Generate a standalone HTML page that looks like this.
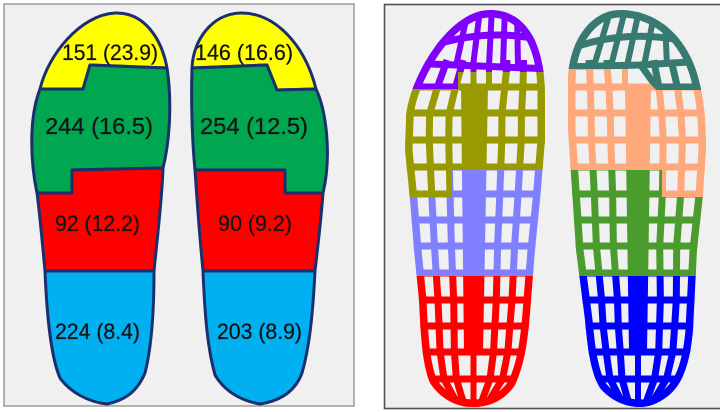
<!DOCTYPE html>
<html>
<head>
<meta charset="utf-8">
<style>
  html,body{margin:0;padding:0;background:#ffffff;}
  svg{display:block;}
  text{font-family:"Liberation Sans",sans-serif;fill:#141414;}
</style>
</head>
<body>
<svg width="720" height="412" viewBox="0 0 720 412" xmlns="http://www.w3.org/2000/svg">
  <rect x="0" y="0" width="720" height="412" fill="#ffffff"/>

  <!-- LEFT PANEL -->
  <rect x="4" y="4" width="350" height="402" fill="#f0f0f0" stroke="#9a9a9a" stroke-width="1.5"/>

  <g stroke="#1a2f6e" stroke-width="3" stroke-linejoin="round">
    <path d="M40,89 C48,55 80,15 115,13 C145,12 162,40 167,68 L90,65 L83,89 Z" fill="#ffff00"/>
    <path d="M40,89 L83,89 L90,65 L167,68 C172,100 170,140 163,168 L72,170 L72,193 L37,193 C31,165 28,120 40,89 Z" fill="#00a650"/>
    <path d="M37,193 L72,193 L72,170 L163,168 C162,200 157,240 154,271 L45,271 C42,240 40,215 37,193 Z" fill="#ff0000"/>
    <path d="M45,271 L154,271 C154,310 152,345 145,373 C137,392 125,400 107,404 C88,402 70,392 60,378 C52,360 47,320 45,271 Z" fill="#00b0f0"/>
    <path d="M192,68 C193,40 212,14 240,13 C275,12 305,45 316,89 L277,90 L267,65 Z" fill="#ffff00"/>
    <path d="M192,68 L267,65 L277,90 L316,89 C326,110 332,155 323,193 L285,193 L285,170 L195,170 C192,140 191,100 192,68 Z" fill="#00a650"/>
    <path d="M195,170 L285,170 L285,193 L323,193 C321,220 318,245 315,271 L203,271 C200,240 197,200 195,170 Z" fill="#ff0000"/>
    <path d="M203,271 L315,271 C313,310 310,345 302,373 C295,392 280,401 260,404 C242,401 225,392 215,375 C208,350 205,320 203,271 Z" fill="#00b0f0"/>
  </g>

  <g font-size="22" stroke="#141414" stroke-width="0.25">
    <text x="62" y="60" textLength="96" lengthAdjust="spacingAndGlyphs">151 (23.9)</text>
    <text x="195" y="60" textLength="98" lengthAdjust="spacingAndGlyphs">146 (16.6)</text>
    <text x="45" y="134" font-size="23" textLength="108" lengthAdjust="spacingAndGlyphs">244 (16.5)</text>
    <text x="200" y="134" font-size="23" textLength="108" lengthAdjust="spacingAndGlyphs">254 (12.5)</text>
    <text x="55" y="231" textLength="85" lengthAdjust="spacingAndGlyphs">92 (12.2)</text>
    <text x="218" y="231" textLength="74" lengthAdjust="spacingAndGlyphs">90 (9.2)</text>
    <text x="55" y="339" textLength="85" lengthAdjust="spacingAndGlyphs">224 (8.4)</text>
    <text x="217" y="339" textLength="85" lengthAdjust="spacingAndGlyphs">203 (8.9)</text>
  </g>

  <!-- RIGHT PANEL -->
  <rect x="384.5" y="4.5" width="345" height="404" fill="#f0f0f0" stroke="#505050" stroke-width="1.6"/>

  <defs>
    <clipPath id="sA"><path d="M490,10 C527,10 545,45 545,95 L545,140 L540,200 L535,250 L531,300 C528,345 524,365 515,385 C505,400 490,407 473,407 C455,407 440,398 430,383 C423,365 421,345 419,300 L414,250 L410,200 L405,150 L406,120 C406,85 446,10 490,10 Z"/></clipPath>
    <clipPath id="sB"><path d="M620,10 C652,10 682,30 696,70 C704,95 706,120 706,150 L703,195 L697,250 L693,330 C690,365 682,385 668,396 C658,404 648,407 640,407 C625,407 610,400 600,388 C592,375 588,355 585,320 L576,250 L572,190 L568,130 L568,80 C569,38 593,10 620,10 Z"/></clipPath>

    <clipPath id="rPA"><polygon points="395,0 555,0 555,72 458,72 458,89 395,89"/></clipPath>
    <clipPath id="rOA"><polygon points="395,89 458,89 458,72 555,72 555,170 452,170 452,197 395,197"/></clipPath>
    <clipPath id="rBA"><polygon points="395,197 452,197 452,170 555,170 555,276 395,276"/></clipPath>
    <clipPath id="rRA"><polygon points="395,276 555,276 555,412 395,412"/></clipPath>

    <clipPath id="rTB"><polygon points="560,0 715,0 715,90 656,90 636,69 560,69"/></clipPath>
    <clipPath id="rSB"><polygon points="560,69 636,69 656,90 715,90 715,197 662,197 662,170 560,170"/></clipPath>
    <clipPath id="rGB"><polygon points="560,170 662,170 662,197 715,197 715,276 560,276"/></clipPath>
    <clipPath id="rLB"><polygon points="560,276 715,276 715,412 560,412"/></clipPath>

    <g id="gA" fill="none" stroke="currentColor">
      <path d="M490,10 C527,10 545,45 545,95 L545,140 L540,200 L535,250 L531,300 C528,345 524,365 515,385 C505,400 490,407 473,407 C455,407 440,398 430,383 C423,365 421,345 419,300 L414,250 L410,200 L405,150 L406,120 C406,85 446,10 490,10 Z" stroke-width="15"/>
      <path d="M395,87H555M395,113H555M395,140H555M395,167H555M395,194H555M395,220H555M395,246H555M395,273H555M395,300H555M395,326H555M395,352H555M395,379H555" stroke-width="7"/>
      <polyline points="447,60 443.6,70 437.1,88 429.6,114 429.2,140 431.7,194 434.4,246 438,300 440.1,352 444,379 453.7,397 462,410" stroke-width="7"/>
      <polyline points="463,60 460.5,70 455.3,88 449.1,114 448.7,140 450,194 451.4,246 453.7,300 454.4,352 456.4,379 461.7,397 466,410" stroke-width="7"/>
      <polyline points="507,60 506.5,70 504.7,88 501.9,114 501.8,140 499.8,194 497.6,246 496.3,300 493.5,352 490,379 483.3,397 479,410" stroke-width="7"/>
      <polyline points="523.5,60 523.4,70 522.9,88 521.4,114 521.3,140 518.1,194 514.6,246 512,300 507.8,352 502.5,379 491.3,397 485,410" stroke-width="7"/>
      <polygon points="461,87 488,87 483,352 464,352" fill="currentColor" stroke="none"/>
      <path d="M473.5,350V410" stroke-width="6"/>
      <path d="M473.5,66V88M489,66V88" stroke-width="6"/>
      <path d="M434,45 Q490,28 541,40" stroke-width="7"/>
      <path d="M405,63 L552,69" stroke-width="7"/>
      <path d="M456,66 L466,20M473,66 L480,10M489,66 L492,6M503,66 L505,6M518,66 L517,10" stroke-width="6"/>
    </g>

    <g id="gB" fill="none" stroke="currentColor">
      <path d="M620,10 C652,10 682,30 696,70 C704,95 706,120 706,150 L703,195 L697,250 L693,330 C690,365 682,385 668,396 C658,404 648,407 640,407 C625,407 610,400 600,388 C592,375 588,355 585,320 L576,250 L572,190 L568,130 L568,80 C569,38 593,10 620,10 Z" stroke-width="15"/>
      <path d="M560,87H715M560,113H715M560,140H715M560,167H715M560,194H715M560,220H715M560,246H715M560,273H715M560,300H715M560,326H715M560,352H715M560,379H715" stroke-width="7"/>
      <polyline points="589,60 589.6,70 590.4,88 591.1,114 591.5,140 594.3,194 596.4,246 601.6,300 603.1,326 606.2,352 610,379 619.4,397 626,410" stroke-width="7"/>
      <polyline points="607,60 607.4,70 608.9,88 610.2,114 610.8,140 612.6,194 613.4,246 617.5,300 618.3,326 620.3,352 622,379 627,397 631,410" stroke-width="7"/>
      <polyline points="654,60 655.6,70 659.1,88 661.8,114 663.2,140 662.4,194 659.7,246 660.4,300 659.5,326 658.7,352 654.5,379 648,397 644,410" stroke-width="7"/>
      <polyline points="671,60 673.4,70 677.6,88 680.9,114 682.5,140 680.7,194 676.7,246 676.3,300 674.7,326 672.8,352 666.5,379 655.6,397 650,410" stroke-width="7"/>
      <polygon points="625,87 651,87 647,352 629,352" fill="currentColor" stroke="none"/>
      <path d="M638,350V410" stroke-width="6"/>
      <path d="M625,68V88" stroke-width="6"/>
      <path d="M575,47 Q625,30 679,40" stroke-width="7"/>
      <path d="M565,67 L640,65 L705,61" stroke-width="7"/>
      <path d="M640,64 L658,89" stroke-width="7"/>
      <path d="M594,66 L610,12M611,66 L626,6M627,66 L640,6M644,66 L655,10M667,66 L665,20" stroke-width="6"/>
    </g>
  </defs>

  <g clip-path="url(#sA)">
    <use href="#gA" color="#8000ff" clip-path="url(#rPA)"/>
    <use href="#gA" color="#999900" clip-path="url(#rOA)"/>
    <use href="#gA" color="#8080ff" clip-path="url(#rBA)"/>
    <use href="#gA" color="#ff0000" clip-path="url(#rRA)"/>
  </g>

  <g clip-path="url(#sB)">
    <use href="#gB" color="#367a72" clip-path="url(#rTB)"/>
    <use href="#gB" color="#ffa87c" clip-path="url(#rSB)"/>
    <use href="#gB" color="#4a9c2c" clip-path="url(#rGB)"/>
    <use href="#gB" color="#0000ff" clip-path="url(#rLB)"/>
  </g>
</svg>
</body>
</html>
